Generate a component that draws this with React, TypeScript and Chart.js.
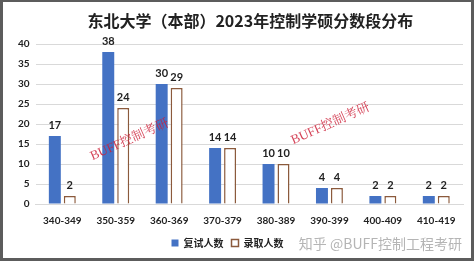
import React, { useEffect, useRef } from "react";
import { Chart, registerables } from "chart.js";

Chart.register(...registerables);

const TITLE = "东北大学（本部）2023年控制学硕分数段分布";
const categories = ["340-349", "350-359", "360-369", "370-379", "380-389", "390-399", "400-409", "410-419"];
const retestCounts = [17, 38, 30, 14, 10, 4, 2, 2];
const admittedCounts = [2, 24, 29, 14, 10, 4, 2, 2];
const seriesNames = ["复试人数", "录取人数"];
const yTicks = { min: 0, max: 40, step: 5 };
const watermarkText = "BUFF控制考研";
const footerText = "知乎 @BUFF控制工程考研";

const NUM_FONT = "Lato, 'Noto Sans CJK SC', sans-serif";
const CJK_FONT = "'Noto Sans CJK SC', Lato, sans-serif";

const labelPlugin = {
  id: "labelsAndMarks",
  afterLayout(chart: any) {
    const lg = chart.legend;
    if (lg) {
      lg.left -= 10;
      lg.right -= 10;
    }
  },
  afterDatasetsDraw(chart: any) {
    const ctx = chart.ctx;
    ctx.save();
    ctx.fillStyle = "#222";
    ctx.font = `bold 11px ${NUM_FONT}`;
    ctx.textAlign = "center";
    ctx.textBaseline = "bottom";
    chart.data.datasets.forEach((ds: any, i: number) => {
      const meta = chart.getDatasetMeta(i);
      meta.data.forEach((bar: any, j: number) => {
        ctx.fillText(String(ds.data[j]), bar.x, bar.y - 5);
      });
    });
    const area = chart.chartArea;
    const w = area.right - area.left;
    const h = area.bottom - area.top;
    const spots = [
      [0.22, 0.6],
      [0.69, 0.5],
    ];
    ctx.fillStyle = "rgba(205, 30, 55, 0.85)";
    ctx.font = `13px 'Liberation Serif', 'Noto Serif CJK SC', 'Noto Sans CJK SC', serif`;
    ctx.textAlign = "center";
    ctx.textBaseline = "middle";
    spots.forEach(([fx, fy]) => {
      ctx.save();
      ctx.translate(area.left + fx * w, area.top + fy * h);
      ctx.rotate((-24 * Math.PI) / 180);
      ctx.fillText(watermarkText, 0, 0);
      ctx.restore();
    });
    ctx.restore();
  },
  afterDraw(chart: any) {
    const ctx = chart.ctx;
    const legend = chart.legend;
    const area = chart.chartArea;
    ctx.save();
    ctx.fillStyle = "#222";
    ctx.font = `bold 16px ${CJK_FONT}`;
    ctx.textAlign = "center";
    ctx.textBaseline = "middle";
    ctx.fillText(TITLE, (area.left + area.right) / 2 + 1, 19);
    ctx.fillStyle = "#b5b5b5";
    ctx.font = `14px ${CJK_FONT}`;
    ctx.textAlign = "right";
    ctx.fillText(footerText, chart.width - 9, legend.top + legend.height / 2);
    ctx.restore();
  },
};

export default function App() {
  const ref = useRef<HTMLCanvasElement>(null);
  useEffect(() => {
    document.body.style.margin = "0";
    const chart = new Chart(ref.current!, {
      type: "bar",
      data: {
        labels: categories,
        datasets: [
          {
            label: seriesNames[0],
            data: retestCounts,
            backgroundColor: "#4472C4",
            borderWidth: 0,
            categoryPercentage: 0.56,
            barPercentage: 0.8,
          },
          {
            label: seriesNames[1],
            data: admittedCounts,
            backgroundColor: "#ffffff",
            borderColor: "#8B5A3C",
            borderWidth: 1.5,
            categoryPercentage: 0.56,
            barPercentage: 0.8,
          },
        ],
      },
      options: {
        animation: false,
        responsive: false,
        layout: { padding: { left: 9, right: 8, top: 42, bottom: 0 } },
        plugins: {
          title: { display: false },
          legend: {
            position: "bottom",
            align: "center",
            labels: {
              boxWidth: 7,
              boxHeight: 7,
              color: "#222",
              font: { family: CJK_FONT, size: 10, weight: "bold" },
              padding: 8,
            },
          },
          tooltip: { enabled: false },
        },
        scales: {
          x: {
            grid: { display: false },
            border: { color: "#d9d9d9" },
            ticks: { color: "#222", font: { family: NUM_FONT, size: 10, weight: "bold" }, padding: 3 },
          },
          y: {
            min: yTicks.min,
            max: yTicks.max,
            ticks: { stepSize: yTicks.step, color: "#222", font: { family: NUM_FONT, size: 10, weight: "bold" }, padding: 6 },
            grid: { color: "#d9d9d9", drawTicks: false },
            border: { display: false },
          },
        },
      },
      plugins: [labelPlugin],
    });
    return () => chart.destroy();
  }, []);
  return (
    <div
      style={{
        width: 474,
        height: 261,
        boxSizing: "border-box",
        borderStyle: "solid",
        borderColor: "#5c5c5c",
        borderWidth: "2px 3px 3px 3px",
        background: "#fff",
      }}
    >
      <canvas ref={ref} width={468} height={256} style={{ display: "block" }} />
    </div>
  );
}
